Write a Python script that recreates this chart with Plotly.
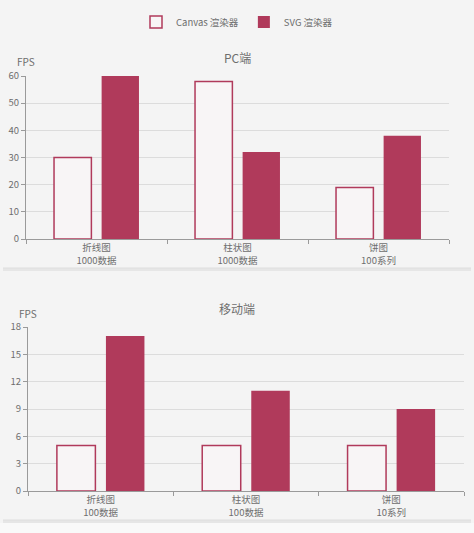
import plotly.graph_objects as go
from plotly.subplots import make_subplots

# data
pc_categories = ['折线图<br>1000数据', '柱状图<br>1000数据', '饼图<br>100系列']
pc_canvas = [30, 58, 19]
pc_svg = [60, 32, 38]

mobile_categories = ['折线图<br>100数据', '柱状图<br>100数据', '饼图<br>10系列']
mobile_canvas = [5, 5, 5]
mobile_svg = [17, 11, 9]

W, H = 474, 533
bar_color = '#b03a5b'
text_color = '#6e6e6e'
font_family = 'Noto Sans CJK SC, Noto Sans, sans-serif'


def px_x(v):
    return v / W


def px_y(v):
    return 1 - v / H


fig = make_subplots(rows=2, cols=1)

# PC traces
fig.add_trace(go.Bar(x=pc_categories, y=pc_canvas, name='Canvas 渲染器',
                     marker=dict(color='#f8f5f6', line=dict(color=bar_color, width=1.5)),
                     legendgroup='canvas'), row=1, col=1)
fig.add_trace(go.Bar(x=pc_categories, y=pc_svg, name='SVG 渲染器',
                     marker=dict(color=bar_color, line=dict(width=0)),
                     legendgroup='svg'), row=1, col=1)

# mobile traces
fig.add_trace(go.Bar(x=mobile_categories, y=mobile_canvas, name='Canvas 渲染器',
                     marker=dict(color='#f8f5f6', line=dict(color=bar_color, width=1.5)),
                     legendgroup='canvas', showlegend=False), row=2, col=1)
fig.add_trace(go.Bar(x=mobile_categories, y=mobile_svg, name='SVG 渲染器',
                     marker=dict(color=bar_color, line=dict(width=0)),
                     legendgroup='svg', showlegend=False), row=2, col=1)

axis_common = dict(showline=True, linecolor='#9a9a9a', linewidth=1,
                   ticks='outside', ticklen=4, tickcolor='#9a9a9a',
                   tickfont=dict(size=9.5, color=text_color), automargin=False)

fig.update_xaxes(**axis_common, tickson='boundaries', showgrid=False)
fig.update_yaxes(**axis_common, showgrid=True, gridcolor='#dcdcdc', gridwidth=1,
                 zeroline=False)

fig.update_layout(
    width=W, height=H,
    margin=dict(l=0, r=0, t=0, b=0, pad=0),
    paper_bgcolor='#f4f4f4',
    plot_bgcolor='#f4f4f4',
    font=dict(family=font_family, color=text_color, size=10),
    barmode='group',
    bargap=0.325,
    bargroupgap=0.215,
    showlegend=True,
    legend=dict(orientation='h', x=0.5, xanchor='center', y=px_y(22), yanchor='middle',
                font=dict(size=9.5, color=text_color),
                bgcolor='rgba(0,0,0,0)'),
    xaxis=dict(domain=[px_x(26), px_x(449)]),
    yaxis=dict(domain=[px_y(239), px_y(76)], range=[0, 60], dtick=10),
    xaxis2=dict(domain=[px_x(28), px_x(464)]),
    yaxis2=dict(domain=[px_y(491), px_y(327)], range=[0, 18], dtick=3),
)

# titles and axis names
labels = [('PC端', 237, 57, 12), ('移动端', 237, 308, 12),
          ('FPS', 26, 62, 10), ('FPS', 28, 313, 10)]
for txt, lx, ly, fs in labels:
    fig.add_annotation(text=txt, x=px_x(lx), y=px_y(ly), xref='paper', yref='paper',
                       xanchor='center', yanchor='middle', showarrow=False,
                       font=dict(size=fs, color=text_color))

# panel separators
for yy in (268, 520):
    fig.add_shape(type='rect', xref='paper', yref='paper',
                  x0=px_x(3), x1=px_x(471), y0=px_y(yy + 3), y1=px_y(yy),
                  fillcolor='#e6e6e6', line=dict(width=0), layer='below')
    fig.add_shape(type='line', xref='paper', yref='paper',
                  x0=px_x(3), x1=px_x(471), y0=px_y(yy), y1=px_y(yy),
                  line=dict(color='#dedede', width=1), layer='below')
fig.add_shape(type='rect', xref='paper', yref='paper',
              x0=0, x1=1, y0=0, y1=px_y(523),
              fillcolor='#f9f9f9', line=dict(width=0), layer='below')

fig.write_html('out.html', config={'displayModeBar': False},
               post_script="document.body.style.margin='0';")
